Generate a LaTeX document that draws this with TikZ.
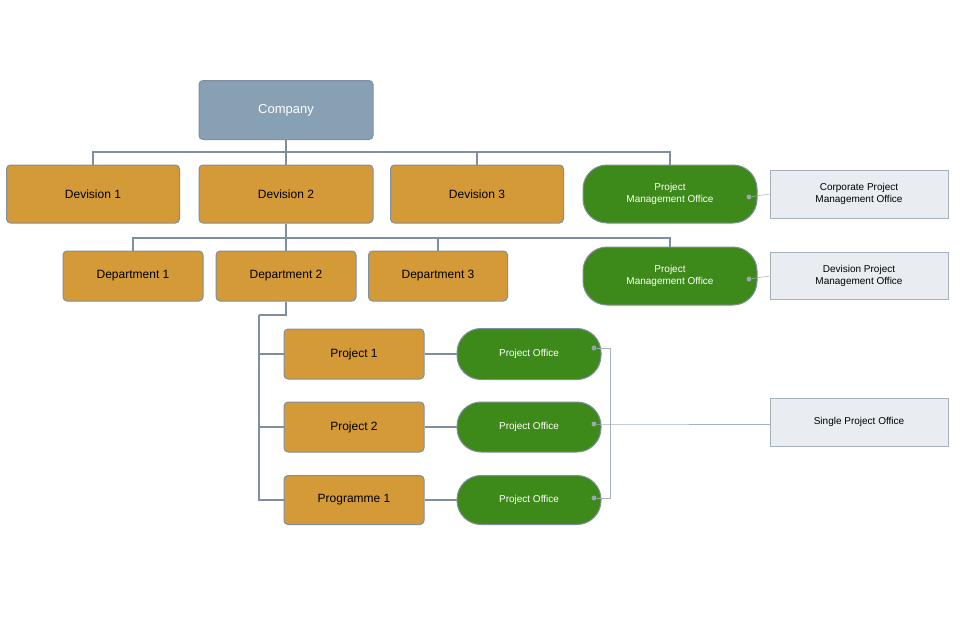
\documentclass[tikz,border=0pt]{standalone}
\usepackage{fontspec}
\setmainfont{Liberation Sans}
\usetikzlibrary{positioning}
\definecolor{orgbox}{HTML}{D49A38}
\definecolor{orgline}{HTML}{7F8FA0}
\definecolor{topbox}{HTML}{87A0B3}
\definecolor{officegreen}{HTML}{3D8A1A}
\definecolor{notebox}{HTML}{E9EDF1}
\tikzstyle{unit}=[rectangle, rounded corners=4pt, fill=orgbox, draw=orgline, line width=1pt, inner sep=0pt, font=\fontsize{12}{14}\selectfont]
\tikzstyle{office}=[rectangle, rounded corners=24pt, fill=officegreen, draw=orgline, line width=1pt, inner sep=0pt, text=white, align=center, font=\fontsize{10}{12}\selectfont]
\tikzstyle{note}=[rectangle, fill=notebox, draw=orgline!70, line width=.5pt, inner sep=0pt, align=center, font=\fontsize{10}{12}\selectfont]
\tikzstyle{dot}=[circle, fill=orgline!80, inner sep=0pt, minimum size=5pt]
\newcommand{\unit}{\node[unit]}

\begin{document}
\begin{tikzpicture}[x=1pt, y=-1pt, every path/.style={draw=orgline, line width=1.2pt}]
\path[use as bounding box, draw=none] (0,0) rectangle (960,640);
\node[unit, fill=topbox, text=white, minimum width=174pt, minimum height=59pt, font=\fontsize{13}{15}\selectfont] (company) at (286,110) {Company};
\unit[minimum width=173pt, minimum height=58pt] (div1) at (93,194) {Devision 1};
\unit[minimum width=174pt, minimum height=58pt] (div2) at (286,194) {Devision 2};
\unit[minimum width=173pt, minimum height=58pt] (div3) at (477,194) {Devision 3};
\node[office, minimum width=174pt, minimum height=58pt] (pmo1) at (670,194) {Project\\Management Office};
\node[note, minimum width=178pt, minimum height=48pt] (cpmo) at (859,194) {Corporate Project\\Management Office};
\unit[minimum width=140pt, minimum height=50pt] (dep1) at (133,276) {Department 1};
\unit[minimum width=140pt, minimum height=50pt] (dep2) at (286,276) {Department 2};
\unit[minimum width=139pt, minimum height=50pt] (dep3) at (438,276) {Department 3};
\node[office, minimum width=174pt, minimum height=58pt] (pmo2) at (670,276) {Project\\Management Office};
\node[note, minimum width=178pt, minimum height=47pt] (dpmo) at (859,276) {Devision Project\\Management Office};
\unit[minimum width=140pt, minimum height=50pt] (proj1) at (354,354) {Project 1};
\unit[minimum width=140pt, minimum height=50pt] (proj2) at (354,427) {Project 2};
\unit[minimum width=140pt, minimum height=49pt] (prog1) at (354,500) {Programme 1};
\node[office, minimum width=144pt, minimum height=51pt] (po1) at (529,354) {Project Office};
\node[office, minimum width=144pt, minimum height=50pt] (po2) at (529,427) {Project Office};
\node[office, minimum width=144pt, minimum height=49pt] (po3) at (529,500) {Project Office};
\node[note, minimum width=178pt, minimum height=48pt] (spo) at (859,422) {Single Project Office};
\coordinate (bus1) at (286,152);
\coordinate (bus2) at (286,238);
\coordinate (bus3) at (259,315);
\coordinate (brk) at (610,424);
% tree connectors
\draw (company.south) -- (bus1);
\foreach \n in {div1,div2,div3,pmo1} \draw (bus1) -| (\n.north);
\draw (div2.south) -- (bus2);
\foreach \n in {dep1,dep2,dep3,pmo2} \draw (bus2) -| (\n.north);
\draw (dep2.south) |- (bus3);
\foreach \n in {proj1,proj2,prog1} \draw (bus3) |- (\n.west);
\draw (proj1) -- (po1); \draw (proj2) -- (po2); \draw (prog1) -- (po3);
% office notes
\node[dot] (d1) at (749,197) {};
\node[dot] (d2) at (749,279) {};
\node[dot] (d3) at (594,348) {};
\node[dot] (d4) at (594,424) {};
\node[dot] (d5) at (594,498) {};
\draw[line width=.5pt, draw=orgline!70] (d1) -- (cpmo.west);
\draw[line width=.5pt, draw=orgline!70] (d2) -- (dpmo.west);
\draw[line width=.5pt, draw=orgline!70] (d3) -| (brk) |- (d5);
\draw[line width=.5pt, draw=orgline!70] (d4) -- (brk) -- (spo.west |- brk);
\end{tikzpicture}
\end{document}
